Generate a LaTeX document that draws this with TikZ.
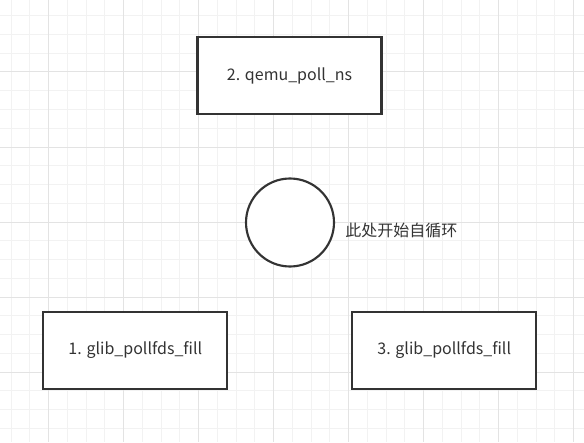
\documentclass[tikz,border=0pt]{standalone}
\usepackage{fontspec}
\setmainfont{Noto Sans CJK SC}
\definecolor{minorgrid}{HTML}{F2F2F2}
\definecolor{majorgrid}{HTML}{E3E3E3}
\definecolor{ink}{HTML}{333333}
\tikzset{
  funcbox/.style={draw=ink, line width=1.6pt, fill=white, minimum width=138pt, minimum height=57.75pt, inner sep=0pt, text=ink, font=\fontsize{12pt}{14pt}\selectfont},
  loopcircle/.style={draw=ink, line width=1.6pt, fill=white, circle, minimum size=66pt, inner sep=0pt},
  note/.style={text=ink, font=\fontsize{12pt}{14pt}\selectfont, inner sep=0pt, anchor=west}
}
\begin{document}
\begin{tikzpicture}[x=0.75pt,y=-0.75pt]
\useasboundingbox (0,0) rectangle (584,442);
\fill[white] (0,0) rectangle (584,442);
% minor grid
\foreach \i in {0,...,31} {
  \draw[minorgrid, line width=0.75pt] ({11.2+18.75*\i},0) -- ({11.2+18.75*\i},442);
}
\foreach \j in {0,...,23} {
  \draw[minorgrid, line width=0.75pt] (0,{15.75+18.75*\j}) -- (584,{15.75+18.75*\j});
}
% major grid
\foreach \i in {0,...,7} {
  \draw[majorgrid, line width=0.75pt] ({48.7+75*\i},0) -- ({48.7+75*\i},442);
}
\foreach \j in {0,...,5} {
  \draw[majorgrid, line width=0.75pt] (0,{-3+75*\j}) -- (584,{-3+75*\j});
}
\node[funcbox] (b2) at (289.5,75.5) {2. qemu\_poll\_ns};
\node[funcbox] (b1) at (135.3,350.5) {1. glib\_pollfds\_fill};
\node[funcbox] (b3) at (444.2,350.5) {3. glib\_pollfds\_fill};
\node[loopcircle] (c) at (290,222.5) {};
\node[note] (t) at (345,230) {此处开始自循环};
\end{tikzpicture}
\end{document}
